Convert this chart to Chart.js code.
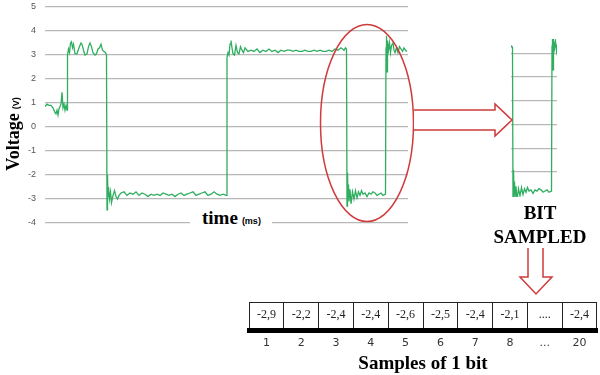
<!DOCTYPE html>
<html>
<head>
<meta charset="utf-8">
<script src="https://cdn.jsdelivr.net/npm/chart.js@4.4.1/dist/chart.umd.min.js"></script>
<style>
  html, body { margin: 0; padding: 0; background: #fff; }
  #wrap { position: relative; width: 600px; height: 375px; overflow: hidden; background: #fff; }
  canvas { position: absolute; }
  .lbl { position: absolute; color: #000; white-space: nowrap; }
  .serif { font-family: "Liberation Serif", "DejaVu Serif", serif; font-weight: bold; }
  .small { font-family: "Liberation Sans", sans-serif; font-weight: bold; font-size: 9px; }
  svg { position: absolute; left: 0; top: 0; pointer-events: none; }
</style>
</head>
<body>
<div id="wrap">
  <canvas id="mainChart" width="420" height="235" style="left:0;top:0;"></canvas>
  <canvas id="zoomChart" width="70" height="180" style="left:500px;top:30px;"></canvas>
  <canvas id="samplesChart" width="360" height="87" style="left:240px;top:290px;"></canvas>

  <div class="lbl" style="left:-37px;top:123px;width:100px;height:22px;line-height:22px;text-align:center;transform:rotate(-90deg);">
    <span class="serif" style="font-size:18px;">Voltage</span> <span class="small">(V)</span>
  </div>
  <div class="lbl" style="left:190px;top:207px;width:82px;height:22px;line-height:22px;background:#fff;padding-left:12px;box-sizing:border-box;">
    <span class="serif" style="font-size:19px;">time</span> <span class="small">(ms)</span>
  </div>
  <div class="lbl serif" style="left:490px;top:201px;width:100px;line-height:24px;font-size:19px;text-align:center;">BIT<br>SAMPLED</div>

  <svg width="600" height="375">
    <ellipse cx="367" cy="123" rx="46.5" ry="98.5" fill="none" stroke="#d03a3a" stroke-width="1.5"/>
    <polyline points="414,110 495,110 495,104 512,120 495,136 495,130 414,130" fill="#fff" stroke="#d03a3a" stroke-width="1.5"/>
    <polyline points="528,248 528,277 520,277 536,294 552,277 543,277 543,248" fill="#fff" stroke="#d03a3a" stroke-width="1.5"/>
  </svg>
</div>

<script>
// tiempo (eje oculto) y tensión
const signalTime = [
  0, 2, 4, 6, 8, 10, 11, 12, 13, 14, 15, 16, 17, 18, 19, 20, 21, 22,
  22.5, 23.5, 24.5, 25.5, 26.5, 27.5, 28.5, 30, 32, 34, 36, 37, 38.5, 40, 42, 43.5, 45, 46.5, 48, 50, 51.5, 53, 54.5, 56, 57.5, 59, 60.5, 61.5,
  62, 62.5, 63, 63.5, 64.5, 65.5, 66.5, 68, 69.5, 71, 72.5, 74,
  76, 79, 82, 85, 88, 91, 94, 97, 100, 103, 106, 109, 112, 115, 118, 121, 124, 127,
  130, 133, 136, 139, 142, 145, 148, 151, 154, 157, 160, 163, 166, 169, 172, 175, 178, 181,
  182, 183, 184, 185, 186, 187, 188, 189.5, 191, 192.5, 194, 195.5, 197, 198.5, 200,
  203, 206, 209, 212, 215, 218, 221, 224, 227, 230, 233, 236, 239, 242, 245, 248, 251, 254,
  257, 260, 263, 266, 269, 272, 275, 278, 281, 284, 287, 290, 293, 296, 299, 300.5, 301.5,
  302, 302.5, 303, 303.5, 304, 305, 306, 307.5, 309, 310.5, 312, 313.5, 315, 316.5, 318,
  320, 322, 324, 326, 328, 330, 332, 334, 336, 338, 340.5,
  341, 341.5, 342, 342.5, 343.5, 344.5, 345.5, 346.5, 348, 349, 350, 351.5, 353, 354.5, 356, 357.5, 359, 360.5, 362
];
const signalVolt = [
  0.85, 0.95, 0.9, 0.9, 0.8, 0.6, 0.55, 0.7, 0.5, 0.75, 0.85, 0.95, 1.45, 0.8, 0.95, 0.7, 0.9, 0.7,
  3.0, 3.25, 3.1, 3.5, 3.55, 3.3, 3.45, 3.05, 3.05, 3.3, 3.5, 3.45, 3.2, 3.0, 3.05, 3.35, 3.5, 3.35, 3.1, 3.0, 3.05, 3.25, 3.3, 3.45, 3.2, 3.15, 3.1, 3.0,
  -3.45, -2.0, -2.9, -2.5, -3.0, -2.7, -3.15, -2.85, -2.65, -2.9, -3.0, -2.85,
  -2.75, -2.7, -2.85, -2.75, -2.8, -2.7, -2.85, -2.75, -2.8, -2.9, -2.8, -2.85, -2.8, -2.85, -2.75, -2.8, -2.85, -2.8,
  -2.9, -2.8, -2.75, -2.85, -2.8, -2.75, -2.7, -2.85, -2.8, -2.75, -2.7, -2.85, -2.8, -2.7, -2.8, -2.85, -2.8, -2.85,
  2.9, 3.1, 3.0, 3.45, 3.6, 3.3, 3.05, 3.0, 3.4, 3.1, 3.05, 3.35, 3.2, 3.1, 3.3,
  3.15, 3.2, 3.15, 3.25, 3.1, 3.2, 3.15, 3.25, 3.15, 3.2, 3.1, 3.2, 3.15, 3.2, 3.2, 3.15, 3.2, 3.15,
  3.15, 3.2, 3.15, 3.15, 3.2, 3.15, 3.2, 3.15, 3.15, 3.2, 3.15, 3.25, 3.2, 3.3, 3.2, 3.3, 3.25,
  -3.3, -1.9, -2.9, -2.4, -3.1, -2.6, -3.2, -2.7, -3.0, -2.65, -2.95, -2.7, -2.85, -2.65, -2.8,
  -2.75, -2.9, -2.75, -2.8, -2.7, -2.75, -2.85, -2.8, -2.75, -2.85, -2.8,
  3.3, 3.8, 2.3, 3.6, 3.2, 3.5, 3.1, 3.4, 3.5, 3.2, 3.1, 3.3, 3.1, 3.35, 3.25, 3.15, 3.3, 3.2, 3.15
];
const voltTicks = [5, 4, 3, 2, 1, 0, -1, -2, -3, -4];

// muestras del bit
const sampleLabels = ['1', '2', '3', '4', '5', '6', '7', '8', '...', '20'];
const sampleValues = [-2.9, -2.2, -2.4, -2.4, -2.6, -2.5, -2.4, -2.1, null, -2.4];

const green = '#2fae60';
const gridGray = '#b8b8b8';
const points = signalTime.map((t, i) => ({ x: t, y: signalVolt[i] }));

function soloEnteros(scale) {
    scale.ticks = scale.ticks.filter(t => Number.isInteger(t.value));
}

// Gráfico principal
new Chart(document.getElementById('mainChart'), {
    type: 'line',
    data: {
        datasets: [{
            data: points,
            borderColor: green,
            borderWidth: 1.3,
            pointRadius: 0,
            tension: 0
        }]
    },
    options: {
        responsive: false,
        animation: false,
        layout: { padding: { top: 7, right: 12, bottom: 12, left: 0 } },
        plugins: { legend: { display: false }, tooltip: { enabled: false } },
        scales: {
            x: { type: 'linear', min: 0, max: 363, display: false },
            y: {
                min: voltTicks[voltTicks.length - 1],
                max: voltTicks[0],
                afterBuildTicks: soloEnteros,
                afterFit: scale => { scale.width = 45; },
                ticks: { stepSize: 1, padding: 0, color: '#555', font: { family: 'Liberation Sans', size: 9 } },
                grid: { color: gridGray, lineWidth: 1.2, drawTicks: true, tickLength: 9, tickColor: 'rgba(0,0,0,0)' },
                border: { display: false }
            }
        }
    }
});

// Detalle del bit (mismos datos, ventana recortada)
new Chart(document.getElementById('zoomChart'), {
    type: 'line',
    data: {
        datasets: [{
            data: points,
            borderColor: green,
            borderWidth: 1.3,
            pointRadius: 0,
            tension: 0
        }]
    },
    options: {
        responsive: false,
        animation: false,
        layout: { padding: { top: 9, right: 13, bottom: 13, left: 11 } },
        plugins: { legend: { display: false }, tooltip: { enabled: false } },
        scales: {
            x: { type: 'linear', min: 300, max: 346, display: false },
            y: {
                min: -3.05,
                max: 3.6,
                afterBuildTicks: soloEnteros,
                afterFit: scale => { scale.width = 0; },
                ticks: { display: false, stepSize: 1 },
                grid: { color: gridGray, lineWidth: 1.2, drawTicks: false },
                border: { display: false }
            }
        }
    }
});

// Tabla de muestras
const tablaPlugin = {
    id: 'tabla',
    afterDraw(chart) {
        const ctx = chart.ctx;
        const area = chart.chartArea;
        const xs = chart.scales.x;
        ctx.save();
        ctx.strokeStyle = '#222';
        ctx.lineWidth = 1;
        ctx.beginPath();
        ctx.moveTo(area.left, area.top + 0.5);
        ctx.lineTo(area.right, area.top + 0.5);
        ctx.stroke();
        ctx.fillStyle = '#222';
        ctx.font = '12px "Liberation Serif"';
        ctx.textAlign = 'center';
        ctx.textBaseline = 'middle';
        const yMid = (area.top + area.bottom - 2.5) / 2;
        chart.data.datasets[0].data.forEach((v, i) => {
            const txt = v === null ? '....' : String(v).replace('.', ',');
            ctx.fillText(txt, xs.getPixelForValue(i), yMid);
        });
        ctx.restore();
    }
};

new Chart(document.getElementById('samplesChart'), {
    type: 'bar',
    data: {
        labels: sampleLabels,
        datasets: [{ data: sampleValues, backgroundColor: 'rgba(0,0,0,0)', borderWidth: 0 }]
    },
    options: {
        responsive: false,
        animation: false,
        layout: { padding: { top: 12, right: 3, bottom: 0, left: 9 } },
        plugins: { legend: { display: false }, tooltip: { enabled: false } },
        scales: {
            y: { display: false, min: -3, max: 0 },
            x: {
                afterFit: scale => { scale.height = 46.5; },
                grid: { offset: true, color: '#222', lineWidth: 1, drawTicks: false },
                border: { display: true, color: '#000', width: 5 },
                ticks: { padding: 6, color: '#333', font: { family: 'DejaVu Sans', size: 11 } },
                title: {
                    display: true,
                    text: 'Samples of 1 bit',
                    color: '#000',
                    font: { family: 'Liberation Serif', size: 19, weight: 'bold' },
                    padding: { top: 4, bottom: 1.5 }
                }
            }
        }
    },
    plugins: [tablaPlugin]
});
</script>
</body>
</html>
